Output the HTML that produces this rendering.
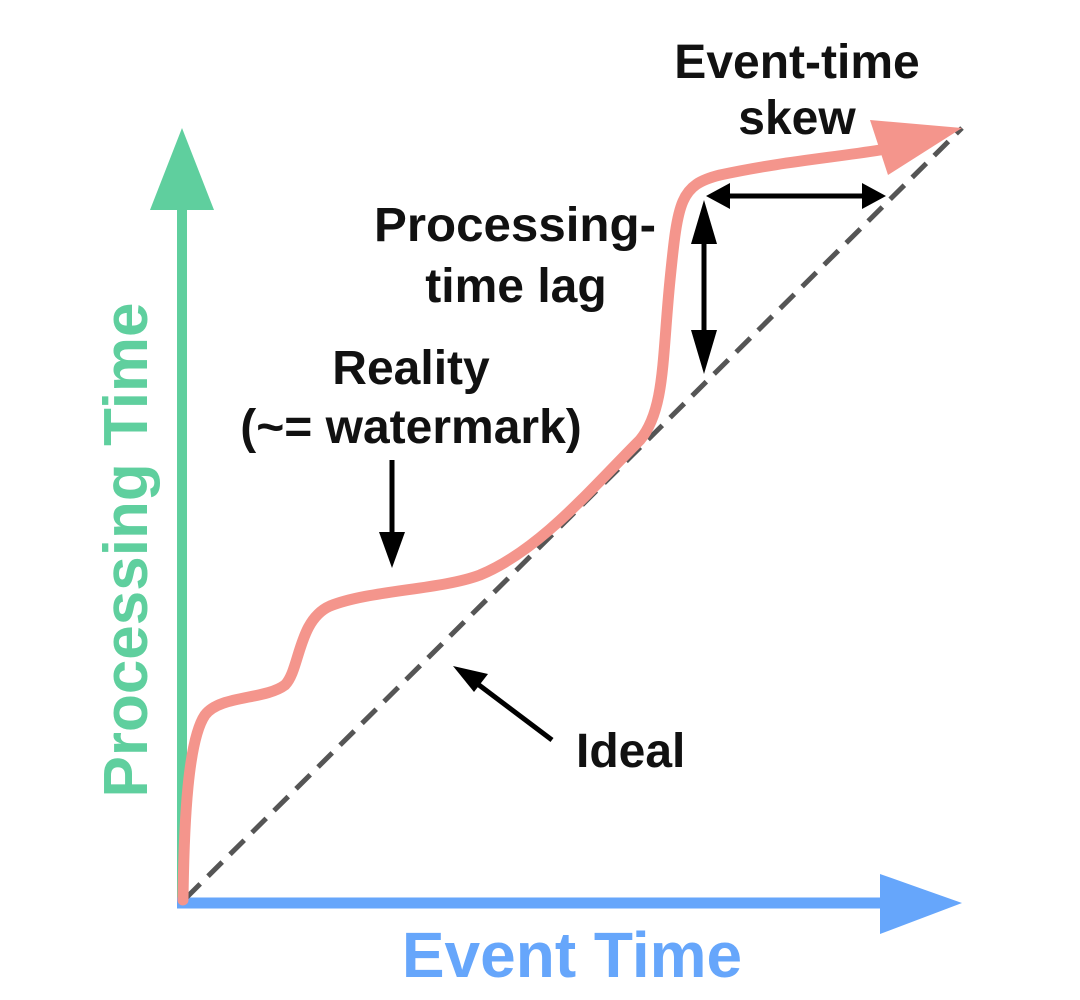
<!DOCTYPE html>
<html><head><meta charset="utf-8"><style>
html,body{margin:0;padding:0;background:#fff;}
svg{display:block;}
text{font-family:"Liberation Sans",sans-serif;font-weight:bold;}
</style></head><body>
<svg width="1080" height="1000" viewBox="0 0 1080 1000" xmlns="http://www.w3.org/2000/svg">
<rect width="1080" height="1000" fill="#fff"/>
<line x1="182" y1="905" x2="182" y2="200" stroke="#5fcf9e" stroke-width="10"/>
<polygon points="150,210 214,210 182,128" fill="#5fcf9e"/>
<line x1="177" y1="903" x2="885" y2="903" stroke="#66a6fb" stroke-width="11"/>
<polygon points="880,874 880,934 962,903" fill="#66a6fb"/>
<line x1="186" y1="898" x2="962" y2="128" stroke="#555" stroke-width="5" stroke-dasharray="20 11"/>
<path d="M183,900 C184,820 188,740 205,715 C220,695 265,700 285,685 C300,670 298,620 330,606 C370,590 440,590 480,575 C540,550 590,490 640,440 C665,410 662,360 670,280 C678,200 680,185 720,175 C780,162 830,158 880,150" fill="none" stroke="#f4958c" stroke-width="11" stroke-linecap="round"/>
<polygon points="870,120 888,175 962,128" fill="#f4958c"/>
<line x1="720" y1="196" x2="870" y2="196" stroke="#000" stroke-width="5"/>
<polygon points="706,196 730,183 730,209" fill="#000"/>
<polygon points="886,196 862,183 862,209" fill="#000"/>
<line x1="704" y1="215" x2="704" y2="358" stroke="#000" stroke-width="5"/>
<polygon points="704,200 691,244 717,244" fill="#000"/>
<polygon points="704,374 691,330 717,330" fill="#000"/>
<line x1="392" y1="460" x2="392" y2="540" stroke="#000" stroke-width="5"/>
<polygon points="392,568 379,532 405,532" fill="#000"/>
<line x1="552" y1="740" x2="475" y2="682" stroke="#000" stroke-width="5"/>
<polygon points="453,666 488,674 474,692" fill="#000"/>
<g fill="#111" font-size="48">
<text x="797" y="78" text-anchor="middle">Event-time</text>
<text x="797" y="134" text-anchor="middle">skew</text>
<text x="374" y="241" textLength="282" lengthAdjust="spacingAndGlyphs">Processing-</text>
<text x="516" y="302" text-anchor="middle">time lag</text>
<text x="411" y="384" text-anchor="middle">Reality</text>
<text x="411" y="443" text-anchor="middle">(~= watermark)</text>
<text x="576" y="767">Ideal</text>
</g>
<text x="0" y="0" font-size="62" fill="#5fcf9e" text-anchor="middle" transform="translate(147,550) rotate(-90)">Processing Time</text>
<text x="572" y="977" font-size="64" fill="#66a6fb" text-anchor="middle">Event Time</text>
</svg>
</body></html>
